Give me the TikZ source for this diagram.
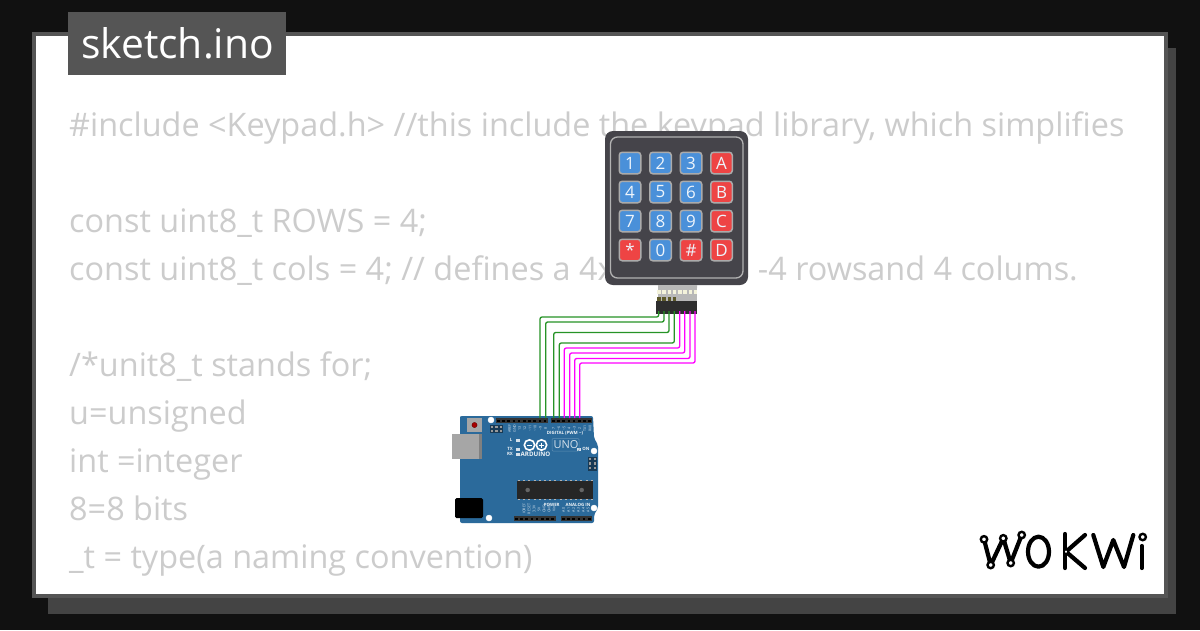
\documentclass[tikz,border=0pt]{standalone}
\usepackage{fontspec}
\setmainfont{Open Sans}
\definecolor{pagedark}{HTML}{111111}
\definecolor{framegray}{HTML}{555555}
\definecolor{shadowgray}{HTML}{444444}
\definecolor{codegray}{HTML}{CCCCCC}
\definecolor{padbody}{HTML}{45444A}
\definecolor{keyblue}{HTML}{4A90D9}
\definecolor{keyred}{HTML}{EE4444}
\definecolor{boardblue}{HTML}{2B6A9B}
\definecolor{wiregreen}{HTML}{008000}
\definecolor{wirepink}{HTML}{FF00FF}
\tikzset{
    codeline/.style={anchor=base west, inner sep=0pt, text=codegray, font=\fontsize{32.4}{40}\selectfont},
    bluekey/.style={draw=black!33, line width=1.5pt, fill=keyblue, rounded corners=3pt, minimum size=21.5pt, inner sep=0pt, text=white!90!keyblue, font=\fontsize{17}{20}\selectfont},
    redkey/.style={bluekey, fill=keyred},
    greenline/.style={wiregreen!85!white, line width=1.3pt, rounded corners=2pt},
    pinkline/.style={wirepink, line width=1.3pt, rounded corners=2pt},
    pinbar/.style={fill=black!80, draw=none},
    pindots/.style={black, line width=2pt, dash pattern=on 2.5pt off 2.7pt},
    pinlabel/.style={rotate=90, inner sep=0pt, text=white!85!boardblue, font=\fontsize{3.6}{4}\selectfont},
    boardlabel/.style={inner sep=0pt, text=white!92!boardblue, font=\bfseries\fontsize{4.4}{5}\selectfont},
    logoline/.style={black, line width=4.2pt, line cap=round, line join=round},
    logodot/.style={draw=black, fill=white, line width=2.4pt},
}
\begin{document}
\begin{tikzpicture}[x=1pt, y=-1pt]
    \useasboundingbox (0,0) rectangle (1200,630);
    \fill[pagedark] (0,0) rectangle (1200,630);
    \fill[shadowgray] (48,48) rectangle (1176,614);
    \filldraw[fill=white, draw=framegray, line width=4pt] (34,34) rectangle (1166,596);

    \node[codeline] (lineA) at (69,136) {\#include <Keypad.h> //this include the keypad library, which simplifies};
    \node[codeline] (lineB) at (69,232) {const uint8\_t ROWS = 4;};
    \node[codeline] (lineC) at (69,280) {const uint8\_t cols = 4; // defines a 4x4 keypad -4 rowsand 4 colums.};
    \node[codeline] (lineD) at (69,376) {/*unit8\_t stands for;};
    \node[codeline] (lineE) at (69,424) {u=unsigned};
    \node[codeline] (lineF) at (69,472) {int =integer};
    \node[codeline] (lineG) at (69,520) {8=8 bits};
    \node[codeline] (lineH) at (69,568) {\_t = type(a naming convention)};

    \fill[framegray] (68,12) rectangle (286,75);
    \node[anchor=base west, inner sep=0pt, text=white, font=\fontsize{40.8}{48}\selectfont] (title) at (81,58) {sketch.ino};

    % keypad
    \fill[padbody, rounded corners=8pt] (605,131) rectangle (748,285);
    \draw[black!30, line width=1.3pt, rounded corners=7pt] (610.5,137) rectangle (743,278);
    \node[bluekey] (K1) at (630,163) {1};
    \node[bluekey] (K2) at (660.5,163) {2};
    \node[bluekey] (K3) at (691,163) {3};
    \node[redkey] (KA) at (721.5,163) {A};
    \node[bluekey] (K4) at (630,192) {4};
    \node[bluekey] (K5) at (660.5,192) {5};
    \node[bluekey] (K6) at (691,192) {6};
    \node[redkey] (KB) at (721.5,192) {B};
    \node[bluekey] (K7) at (630,221) {7};
    \node[bluekey] (K8) at (660.5,221) {8};
    \node[bluekey] (K9) at (691,221) {9};
    \node[redkey] (KC) at (721.5,221) {C};
    \node[redkey] (Kstar) at (630,250) {*};
    \node[bluekey] (K0) at (660.5,250) {0};
    \node[redkey] (Khash) at (691,250) {\#};
    \node[redkey] (KD) at (721.5,250) {D};

    % ribbon and header below the keypad
    \fill[black!28] (657.5,285) rectangle (696.5,301);
    \draw[white!90!olive, line width=3.4pt, dash pattern=on 3.4pt off 1.85pt] (657.2,292) -- (697,292);
    \draw[olive!55!black, line width=3.4pt, dash pattern=on 3.4pt off 1.85pt] (657.2,299) -- (676,299);
    \fill[black!82] (655.5,301) rectangle (697,314);

    \coordinate (R1) at (658.7,311);
    \coordinate (R2) at (664,311);
    \coordinate (R3) at (669,311);
    \coordinate (R4) at (674.3,311);
    \coordinate (R5) at (679.7,311);
    \coordinate (R6) at (684.7,311);
    \coordinate (R7) at (690,311);
    \coordinate (R8) at (695,311);

    % arduino board
    \fill[boardblue] (460,418) [rounded corners=2pt] -- (460,416) -- (593,416) -- (594,438) -- (598,445) -- (598,508) -- (594,515) -- (594,523) -- (460,523) -- cycle;
    \fill[black!35!white] (452,434) rectangle (482,459);
    \fill[black!50!white] (479,434) rectangle (482,459);
    \fill[black] (455,498) [rounded corners=1.5pt] -- (483,498) -- (483,518) -- (455,518) -- cycle;
    \fill[black!35!white] (467,418) rectangle (482,432);
    \filldraw[fill=red!65!black, draw=red!40!black] (474.5,425) circle (2.6pt);

    \filldraw[white] (491,420) circle (3pt);
    \filldraw[white] (594,451) circle (3pt);
    \filldraw[white] (489,518) circle (3pt);
    \filldraw[white] (594,508) circle (3pt);

    \fill[pinbar] (496,418) rectangle (548,423);
    \fill[pinbar] (551,418) rectangle (592,423);
    \fill[pinbar] (514,516) rectangle (556,521);
    \fill[pinbar] (561,516) rectangle (592,521);
    \draw[pindots] (497,420.5) -- (548,420.5);
    \draw[pindots] (552,420.5) -- (592,420.5);
    \draw[pindots] (515,518.5) -- (556,518.5);
    \draw[pindots] (562,518.5) -- (592,518.5);

    \fill[black!45!boardblue] (490,425) rectangle (503,433);
    \fill[black!45!boardblue] (588,457) rectangle (597,471);
    \draw[black!40, line width=2.5pt, dash pattern=on 2.5pt off 2.2pt] (490.5,427) -- (503,427);
    \draw[black!40, line width=2.5pt, dash pattern=on 2.5pt off 2.2pt] (490.5,431) -- (503,431);
    \draw[black!40, line width=2.5pt, dash pattern=on 2.5pt off 2.2pt] (590,457.5) -- (590,471);
    \draw[black!40, line width=2.5pt, dash pattern=on 2.5pt off 2.2pt] (595,457.5) -- (595,471);

    \fill[black!85] (517,481) rectangle (593,499);
    \filldraw[black!60] (527.7,490) circle (2pt);
    \filldraw[black!60] (581.7,490) circle (2pt);
    \draw[white!70!black, line width=1pt, dash pattern=on 2pt off 3.2pt] (518,480.5) -- (593,480.5);
    \draw[white!70!black, line width=1pt, dash pattern=on 2pt off 3.2pt] (518,499.5) -- (593,499.5);

    \node[pinlabel] (pAREF) at (509.7,428.5) {AREF};
    \node[pinlabel] (pGND) at (514.5,428.5) {GND};
    \node[pinlabel] (p13) at (519.6,428.5) {13};
    \node[pinlabel] (p12) at (524.8,428.5) {12};
    \node[pinlabel] (p11) at (530,428.5) {\textasciitilde 11};
    \node[pinlabel] (p10) at (535,428.5) {\textasciitilde 10};
    \node[pinlabel] (p9) at (540.4,428.5) {\textasciitilde 9};
    \node[pinlabel] (p8) at (545.6,428.5) {8};
    \node[pinlabel] (p7) at (553.6,428.5) {7};
    \node[pinlabel] (p6) at (558.8,428.5) {\textasciitilde 6};
    \node[pinlabel] (p5) at (564,428.5) {\textasciitilde 5};
    \node[pinlabel] (p4) at (569,428.5) {4};
    \node[pinlabel] (p3) at (574.4,428.5) {\textasciitilde 3};
    \node[pinlabel] (p2) at (579.6,428.5) {2};
    \node[pinlabel] (pTX) at (584.8,428.5) {TX1};
    \node[pinlabel] (pRX) at (590,428.5) {RX0};

    \node[pinlabel] (pIOREF) at (524,509) {IOREF};
    \node[pinlabel] (pRESET) at (529,509) {RESET};
    \node[pinlabel] (p33) at (534,509) {3.3V};
    \node[pinlabel] (p5V) at (539,509) {5V};
    \node[pinlabel] (pGNDa) at (544,509) {GND};
    \node[pinlabel] (pGNDb) at (549,509) {GND};
    \node[pinlabel] (pVin) at (554,509) {Vin};
    \node[pinlabel] (pA0) at (563.7,510) {A0};
    \node[pinlabel] (pA1) at (568.6,510) {A1};
    \node[pinlabel] (pA2) at (573.5,510) {A2};
    \node[pinlabel] (pA3) at (578.4,510) {A3};
    \node[pinlabel] (pA4) at (583.3,510) {A4};
    \node[pinlabel] (pA5) at (588.2,510) {A5};

    \node[boardlabel] (digital) at (565,433.7) {DIGITAL (PWM \textasciitilde)};
    \node[boardlabel] (power) at (551.7,504.5) {POWER};
    \node[boardlabel] (analog) at (578,504.5) {ANALOG IN};
    \node[boardlabel] (ledL) at (511,440) {L};
    \node[boardlabel] (ledTX) at (510,449) {TX};
    \node[boardlabel] (ledRX) at (510,454) {RX};
    \node[boardlabel] (ledON) at (586,449) {ON};
    \fill[white!80!boardblue] (515.5,438.5) rectangle (520,441.5);
    \fill[white!80!boardblue] (515.5,447.5) rectangle (520,450.5);
    \fill[white!80!boardblue] (515.5,452.5) rectangle (520,455.5);
    \fill[white!80!boardblue] (576.5,447.5) rectangle (581,450.5);

    \draw[white, line width=1.6pt] (529.5,445) circle (5.2pt);
    \draw[white, line width=1.6pt] (541.5,445) circle (5.2pt);
    \draw[white, line width=.8pt] (527,445) -- (532,445);
    \draw[white, line width=.8pt] (539,445) -- (544,445) (541.5,442.5) -- (541.5,447.5);
    \node[boardlabel, font=\bfseries\fontsize{6.2}{7}\selectfont] (arduino) at (535.5,454) {ARDUINO};
    \node[inner sep=0pt, text=white!80!boardblue, font=\fontsize{11}{12}\selectfont] (uno) at (566,444.5) {UNO};
    \draw[white!25!boardblue, line width=.5pt, rounded corners=1pt] (552,438.5) rectangle (579,451);

    \coordinate (P1) at (540,418);
    \coordinate (P2) at (545.7,418);
    \coordinate (P3) at (553.7,418);
    \coordinate (P4) at (559.3,418);
    \coordinate (P5) at (564.3,418);
    \coordinate (P6) at (569.7,418);
    \coordinate (P7) at (574.7,418);
    \coordinate (P8) at (579.7,418);

    \coordinate (W1) at (540,317);
    \coordinate (W2) at (545.7,322);
    \coordinate (W3) at (553.7,332.5);
    \coordinate (W4) at (559.3,343);
    \coordinate (W5) at (564.3,348);
    \coordinate (W6) at (569.7,353);
    \coordinate (W7) at (574.7,358.5);
    \coordinate (W8) at (579.7,363);

    \draw[greenline] (R1) |- (W1) -- (P1);
    \draw[greenline] (R2) |- (W2) -- (P2);
    \draw[greenline] (R3) |- (W3) -- (P3);
    \draw[greenline] (R4) |- (W4) -- (P4);
    \draw[pinkline] (R5) |- (W5) -- (P5);
    \draw[pinkline] (R6) |- (W6) -- (P6);
    \draw[pinkline] (R7) |- (W7) -- (P7);
    \draw[pinkline] (R8) |- (W8) -- (P8);

    % logo
    \draw[logoline] (984,539.3) -- (990.7,565) -- (1003.3,538.3) -- (1010.7,563) -- (1021.7,535);
    \filldraw[logodot] (984,539.3) circle (3.2pt);
    \filldraw[logodot] (990.7,565) circle (3.2pt);
    \filldraw[logodot] (1003.3,538.3) circle (3.2pt);
    \filldraw[logodot] (1010.7,563) circle (3.2pt);
    \filldraw[logodot] (1021.7,535) circle (3.2pt);
    \draw[logoline] (1038.5,551.7) ellipse (10.5pt and 15pt);
    \draw[logoline] (1065,534) -- (1065,568);
    \draw[logoline] (1085,535) -- (1066,551.7) -- (1085,568);
    \filldraw[draw=black, fill=white, line width=1.5pt] (1066,551.7) circle (2pt);
    \draw[logoline] (1093.3,535) -- (1103.3,567) -- (1113.3,540) -- (1124,567) -- (1133.3,535);
    \draw[logoline] (1141.7,546) -- (1141.7,568);
    \filldraw[logodot] (1142.7,537) circle (3.2pt);
\end{tikzpicture}
\end{document}
